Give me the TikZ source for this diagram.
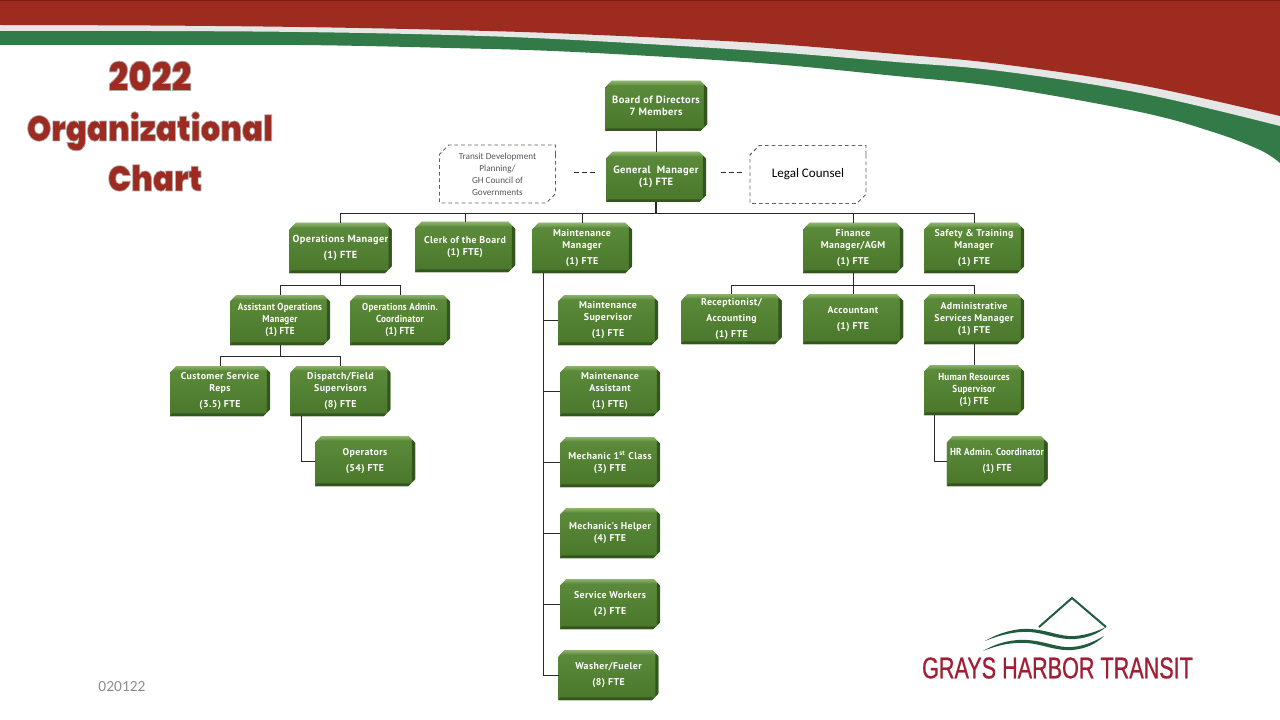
\documentclass[tikz,border=0pt]{standalone}
\usepackage{fontspec}
\usetikzlibrary{shapes.misc,calc}
\newfontfamily\orgfont[LetterSpace=4]{PT Sans Bold}
\newfontfamily\orgnarrow[FakeStretch=.9,LetterSpace=2]{PT Sans Bold}
\newfontfamily\dashfont{Carlito}
\newfontfamily\titlefont[FakeBold=2,FakeStretch=.88]{Poppins Black}
\newfontfamily\logofont[FakeStretch=0.72,FakeBold=.6]{Liberation Sans}
\definecolor{bandred}{HTML}{9E2B20}
\definecolor{bandredtop}{HTML}{7A1A14}
\definecolor{bandgreen}{HTML}{327A47}
\definecolor{bandwhite}{HTML}{E6E6E6}
\definecolor{boxtop}{HTML}{5C8C3B}
\definecolor{boxbody}{HTML}{4A772B}
\definecolor{boxlight}{HTML}{8DB46A}
\definecolor{boxdark}{HTML}{34551D}
\definecolor{linecol}{HTML}{2A2A2A}
\definecolor{dashcol}{HTML}{56694F}
\definecolor{notetext}{HTML}{555555}
\definecolor{logogreen}{HTML}{1F5B3C}
\definecolor{logored}{HTML}{A31D34}
\definecolor{notegray}{HTML}{8C8C8C}
\tikzset{
  orgbox/.style={
    shape=chamfered rectangle,
    chamfered rectangle corners={north west,north east,south east},
    chamfered rectangle sep=2.5pt,
    minimum width=75pt, minimum height=37.5pt, inner sep=0pt, outer sep=0pt,
    fill=boxbody, text=white, align=center,
    font=\orgfont\fontsize{7.4}{9}\selectfont,
    path picture={
      \path (path picture bounding box.north west) coordinate (nw)
            (path picture bounding box.north east) coordinate (ne)
            (path picture bounding box.south west) coordinate (sw)
            (path picture bounding box.south east) coordinate (se);
      \shade[top color=boxtop,bottom color=boxbody] (nw) rectangle (se);
      \shade[top color=boxlight,bottom color=boxtop] (nw) -- (ne) -- ([xshift=-2.3pt,yshift=-3.5pt]ne) -- ([xshift=1.5pt,yshift=-3.5pt]nw) -- cycle;
      \fill[boxdark] (ne) -- ([xshift=-2.3pt,yshift=-3.5pt]ne) -- ([xshift=-2.3pt,yshift=2pt]se) -- (se) -- cycle;
      \fill[boxdark] (sw) -- ([xshift=1.5pt,yshift=2pt]sw) -- ([xshift=-2.3pt,yshift=2pt]se) -- (se) -- cycle;
    }},
  orgbig/.style={font=\orgfont\fontsize{7.9}{9}\selectfont},
  orgslim/.style={font=\orgnarrow\fontsize{7.6}{9}\selectfont},
  notebox/.style={
    shape=chamfered rectangle,
    chamfered rectangle corners={north west,south east},
    chamfered rectangle sep=3.5pt,
    minimum width=87pt, minimum height=43.5pt, inner sep=0pt,
    draw=dashcol, line width=.7pt, dash pattern=on 2.8pt off 2.2pt,
    align=center},
  conn/.style={draw=linecol, line width=.7pt},
  dashconn/.style={draw=linecol, line width=.6pt, dash pattern=on 3.75pt off 2.4pt},
}
\begin{document}
\begin{tikzpicture}[x=.75pt,y=-.75pt]
\useasboundingbox (0,0) rectangle (1280,720);
% header band
\fill[bandgreen] (0,0) -- plot[smooth,tension=.6] coordinates {(0,45)(150,45)(300,45)(450,48)(575,52)(759,63)(896,76)(1000,87)(1140,112)(1213,132)(1260,150)(1280,163)} -- (1280,0) -- cycle;
\fill[bandwhite] (0,0) -- plot[smooth,tension=.6] coordinates {(0,31)(150,31)(300,32)(450,35)(575,40)(759,51)(896,62)(1000,71)(1140,93)(1280,126)} -- (1280,0) -- cycle;
\fill[bandred] (0,0) -- plot[smooth,tension=.6] coordinates {(0,25)(150,25.5)(300,27)(450,30)(575,34)(759,43)(896,54)(1000,64)(1140,85)(1280,116)} -- (1280,0) -- cycle;
\fill[bandredtop] (0,0) rectangle (1280,1);
% title
\node[inner sep=0pt] (title) at (150,131) {\special{pdf:bcolor [0.62 0.17 0.13] [0.70 0.66 0.64]}\titlefont\fontsize{26.5}{37.5}\selectfont\begin{tabular}{@{}c@{}}{\fontsize{30}{37.5}\selectfont 2022}\\Organizational\\\hspace*{7.5pt}Chart\end{tabular}\special{pdf:ecolor}};
% boxes
\node[orgbox,orgbig,minimum width=76.5pt] (board) at (656,106) {Board of Directors\\7 Members};
\node[orgbox,orgbig] (gm) at (656,177) {General\hspace{4.5pt}Manager\\(1) FTE};
\node[notebox,text=notetext,font=\dashfont\fontsize{6.9}{9}\selectfont] (tdp) at (497.5,174) {Transit Development\\Planning/\\GH Council of\\Governments};
\node[notebox,text=black,font=\dashfont\fontsize{9.8}{12}\selectfont] (legal) at (808,174.5) {Legal Counsel};
\node[orgbox,font=\orgfont\fontsize{7.7}{9}\selectfont] (ops) at (340.5,248) {Operations Manager\\[3pt](1) FTE};
\node[orgbox] (clerk) at (465,247) {Clerk of the Board\\(1) FTE)};
\node[orgbox] (maint) at (582,248) {Maintenance\\Manager\\[3pt](1) FTE};
\node[orgbox] (fin) at (853,248) {Finance\\Manager/AGM\\[3pt](1) FTE};
\node[orgbox] (safety) at (974,248) {Safety \& Training\\Manager\\[3pt](1) FTE};
\node[orgbox,orgslim] (asst) at (280,320) {Assistant Operations\\Manager\\(1) FTE};
\node[orgbox,orgslim] (admin) at (400,320) {Operations Admin.\\Coordinator\\(1) FTE};
\node[orgbox] (cust) at (220,391) {Customer Service\\Reps\\[3pt](3.5) FTE};
\node[orgbox] (disp) at (340.5,391) {Dispatch/Field\\Supervisors\\[3pt](8) FTE};
\node[orgbox] (oper) at (365,461) {Operators\\[3pt](54) FTE};
\node[orgbox] (msup) at (608,320) {Maintenance\\Supervisor\\[3pt](1) FTE};
\node[orgbox] (masst) at (610,391) {Maintenance\\Assistant\\[3pt](1) FTE)};
\node[orgbox] (mech) at (610,462) {Mechanic 1\textsuperscript{st} Class\\(3) FTE};
\node[orgbox] (help) at (610,533) {Mechanic's Helper\\(4) FTE};
\node[orgbox] (serv) at (610,604) {Service Workers\\[3pt](2) FTE};
\node[orgbox] (wash) at (608.5,675) {Washer/Fueler\\[3pt](8) FTE};
\node[orgbox] (recep) at (731.5,319) {Receptionist/\\[3pt]Accounting\\[3pt](1) FTE};
\node[orgbox] (acct) at (853,319) {Accountant\\[3pt](1) FTE};
\node[orgbox] (asm) at (974,319) {Administrative\\Services Manager\\(1) FTE};
\node[orgbox,orgslim] (hr) at (974,390) {Human Resources\\Supervisor\\(1) FTE};
\node[orgbox,orgslim] (hradm) at (997,461) {HR Admin. Coordinator\\[3pt](1) FTE};
% junctions
\coordinate (busa) at (656,213);
\coordinate (busb) at (340.5,285);
\coordinate (busc) at (280,356);
\coordinate (busd) at (853,285);
\coordinate (dl1) at (574,172);
\coordinate (dl2) at (595,172);
\coordinate (dr1) at (721,172);
\coordinate (dr2) at (742,172);
% connectors
\draw[conn] (board.south) -- (gm.north);
\draw[conn,line width=1.2pt] (gm.south) -- (busa);
\draw[conn] (busa) -| (ops.north);
\draw[conn] (busa) -| (clerk.north);
\draw[conn] (busa) -| (maint.north);
\draw[conn] (busa) -| (fin.north);
\draw[conn] (busa) -| (safety.north);
\draw[conn] (ops.south) -- (busb);
\draw[conn] (busb) -| (asst.north);
\draw[conn] (busb) -| (admin.north);
\draw[conn] (asst.south) -- (busc);
\draw[conn] (busc) -| (cust.north);
\draw[conn] (busc) -| (disp.north);
\draw[conn] ([xshift=-29.6pt]disp.south) |- (oper.west);
\draw[conn] ([xshift=-29.25pt]maint.south) |- (msup.west);
\draw[conn] ([xshift=-29.25pt]maint.south) |- (masst.west);
\draw[conn] ([xshift=-29.25pt]maint.south) |- (mech.west);
\draw[conn] ([xshift=-29.25pt]maint.south) |- (help.west);
\draw[conn] ([xshift=-29.25pt]maint.south) |- (serv.west);
\draw[conn] ([xshift=-29.25pt]maint.south) |- (wash.west);
\draw[conn] (fin.south) -- (busd);
\draw[conn] (busd) -| (recep.north);
\draw[conn] (busd) -- (acct.north);
\draw[conn] (busd) -| (asm.north);
\draw[conn] (asm.south) -- (hr.north);
\draw[conn] ([xshift=-30pt]hr.south) |- (hradm.west);
\draw[dashconn] (dl1) -- (dl2);
\draw[dashconn] (dr1) -- (dr2);
% footer note
\node[text=notegray,font=\dashfont\fontsize{11.6}{13}\selectfont,inner sep=0pt] (note) at (122,687) {020122};
% logo
\draw[logogreen,line width=1.5pt,line join=miter] (1039,627) -- (1072,598) -- (1106,627);
\fill[logogreen] (985,641) .. controls (1000,632) and (1018,628) .. (1030,629) .. controls (1048,630) and (1060,637) .. (1075,636) .. controls (1087,635) and (1098,631) .. (1106,627) .. controls (1098,634) and (1087,638) .. (1075,639) .. controls (1058,640) and (1045,633) .. (1030,632) .. controls (1015,631) and (1000,635) .. (985,641) -- cycle;
\fill[logogreen] (983,651) .. controls (998,642) and (1015,639) .. (1027,640) .. controls (1045,641) and (1057,648) .. (1072,647) .. controls (1085,646) and (1095,641) .. (1104,636) .. controls (1096,644) and (1085,649) .. (1072,650) .. controls (1055,651) and (1042,644) .. (1027,643) .. controls (1012,642) and (998,645) .. (983,651) -- cycle;
\node[text=logored,inner sep=0pt,font=\logofont\fontsize{22.5}{24}\selectfont] (logo) at (1057.5,668) {GRAYS HARBOR TRANSIT};
\end{tikzpicture}
\end{document}
